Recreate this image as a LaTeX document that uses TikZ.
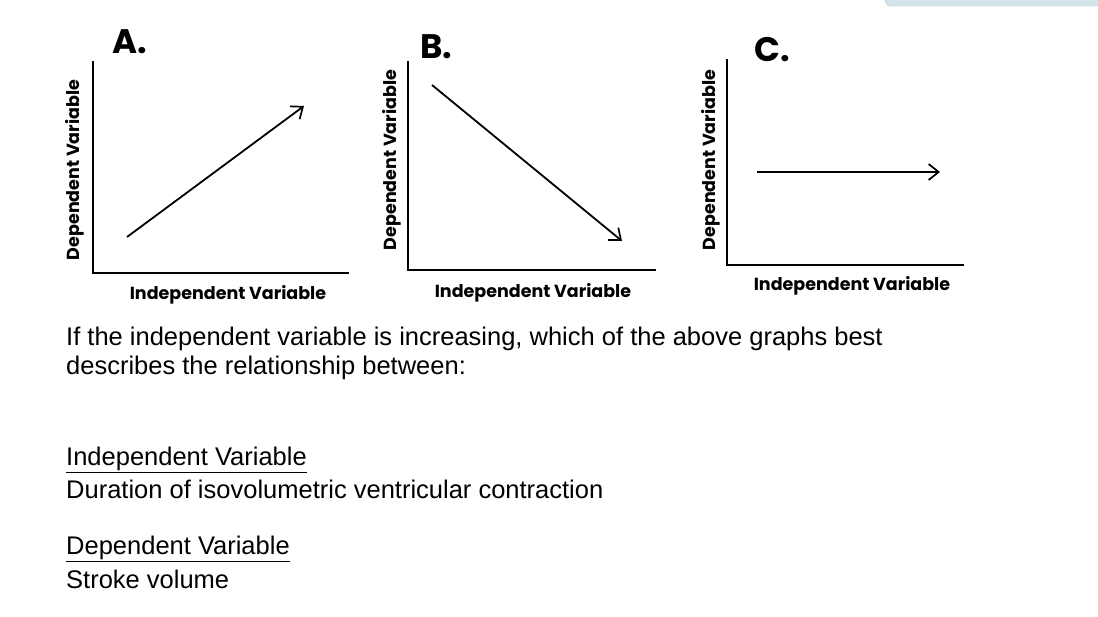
\documentclass[tikz,border=0pt]{standalone}
\usepackage{fontspec}
\setmainfont{Liberation Sans}
\newfontfamily\geo{Poppins}
\usetikzlibrary{arrows.meta}
\begin{document}
\begin{tikzpicture}[x=1pt,y=-1pt,
  axis/.style={line width=2.4pt, line cap=rect},
  trend/.style={line width=1.8pt, -{Straight Barb[length=10pt,width=16pt,line width=1.7pt]}},
  glabel/.style={font=\geo\bfseries\fontsize{17.5}{19}\selectfont, inner sep=0pt},
  letter/.style={font=\geo\bfseries\fontsize{34}{36}\selectfont, inner sep=0pt},
  body/.style={font=\fontsize{25.5}{28}\selectfont, anchor=west, inner sep=0pt}]
\useasboundingbox (0,0) rectangle (1098,616);
\fill[white] (0,0) rectangle (1098,616);
\draw[fill={rgb,255:red,212;green,227;blue,233}, draw={rgb,255:red,190;green,205;blue,212}, rounded corners=6pt] (885,-15) rectangle (1110,6);
% A
\coordinate (ay) at (93,62); \coordinate (ao) at (93,273); \coordinate (ax) at (348,273);
\draw[axis] (ay) -- (ao) -- (ax);
\coordinate (a1) at (127,237); \coordinate (a2) at (304,106);
\draw[trend] (a1) -- (a2);
\node[letter] (la) at (130,42) {A.};
\node[glabel] (xa) at (228,295) {Independent Variable};
\node[glabel, rotate=90] (ya) at (75,170) {Dependent Variable};
% B
\coordinate (by) at (408,62); \coordinate (bo) at (408,270); \coordinate (bx) at (655,270);
\draw[axis] (by) -- (bo) -- (bx);
\coordinate (b1) at (432,85); \coordinate (b2) at (622,241);
\draw[trend] (b1) -- (b2);
\node[letter] (lb) at (436,47) {B.};
\node[glabel] (xb) at (533,293) {Independent Variable};
\node[glabel, rotate=90] (yb) at (392,160) {Dependent Variable};
% C
\coordinate (cy) at (727,60); \coordinate (co) at (727,265); \coordinate (cx) at (963,265);
\draw[axis] (cy) -- (co) -- (cx);
\coordinate (c1) at (757,172); \coordinate (c2) at (940,172);
\draw[trend] (c1) -- (c2);
\node[letter] (lc) at (772,50) {C.};
\node[glabel] (xc) at (852,286) {Independent Variable};
\node[glabel, rotate=90] (yc) at (711,160) {Dependent Variable};
% text
\node[body] (q1) at (66,339) {If the independent variable is increasing, which of the above graphs best};
\node[body] (q2) at (66,368) {describes the relationship between:};
\node[body] (iv) at (66,460) {\underline{Independent Variable}};
\node[body] (ivd) at (66,489) {Duration of isovolumetric ventricular contraction};
\node[body] (dv) at (66,549) {\underline{Dependent Variable}};
\node[body] (dvd) at (66,579) {Stroke volume};
\end{tikzpicture}
\end{document}
